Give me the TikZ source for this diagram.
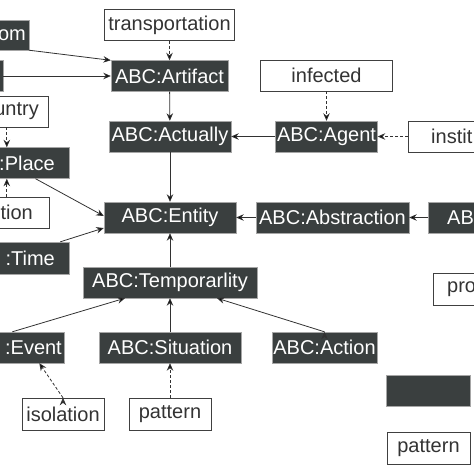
\documentclass[tikz,border=0pt]{standalone}
\usepackage{fontspec}
\setmainfont{Liberation Sans}
\usepackage{xcolor}
\usepackage{tikz}
\usetikzlibrary{arrows.meta, positioning, calc}

\definecolor{conceptfill}{RGB}{58,63,63}
\definecolor{linegray}{RGB}{50,50,50}

\begin{document}
\begin{tikzpicture}[
            x=1pt, y=-1pt,
            concept/.style={rectangle, draw=gray!70, fill=conceptfill, text=white, minimum height=31pt, inner sep=0pt, font=\fontsize{20}{22}\selectfont},
            patbox/.style={rectangle, draw=black!75, fill=white, text=black!80, minimum height=31pt, inner sep=0pt, font=\fontsize{20}{22}\selectfont},
            sub/.style={draw=linegray, line width=0.8pt, -{Stealth[length=7.5pt, width=6.5pt]}},
            dep/.style={sub, dash pattern=on 3pt off 2pt}
        ]
            \useasboundingbox (0,0) rectangle (474,474);
            \clip (0,0) rectangle (474,474);

            % Nodes
            \node[concept, minimum width=117] (artifact) at (169.5,76) {ABC:Artifact};
            \node[patbox, minimum width=130] (transport) at (169.5,25) {transportation};
            \node[concept, minimum width=122] (actually) at (170,136.5) {ABC:Actually};
            \node[concept, minimum width=132] (entity) at (170,217.5) {ABC:Entity};
            \node[concept, minimum width=174] (temp) at (170,282.5) {ABC:Temporarlity};
            \node[concept, minimum width=142] (situation) at (170,347.5) {ABC:Situation};
            \node[concept, minimum width=105] (action) at (324.5,347.5) {ABC:Action};
            \node[patbox, minimum width=82, minimum height=32] (isolation) at (63,414) {isolation};
            \node[patbox, minimum width=82, minimum height=32] (pattern) at (170,414) {pattern};
            \node[patbox, minimum width=132] (infected) at (326.5,75.5) {infected};
            \node[concept, minimum width=102] (agent) at (326.5,136.5) {ABC:Agent};
            \node[concept, minimum width=153] (abstraction) at (332.5,217.5) {ABC:Abstraction};

            % Nodes cut by the edge
            \node[concept, anchor=east, text width=96, align=right, inner xsep=14] (place) at (69,163) {:Place};
            \node[concept, anchor=east, minimum height=32, text width=91, align=right, inner xsep=14] (time) at (69,258) {:Time};
            \node[concept, anchor=east, text width=99, align=right, inner xsep=2] (event) at (64,347.5) {:Event};
            \node[concept, anchor=east, minimum height=30, text width=60, align=right, inner xsep=3] (om) at (29,35) {om};
            \node[concept, anchor=east, minimum width=40] (leftconcept) at (3,76) {};
            \node[patbox, anchor=east, text width=60, align=right, inner xsep=9] (country) at (48,111.5) {untry};
            \node[patbox, anchor=east, text width=60, align=right, inner xsep=16] (location) at (49,212.5) {tion};
            \node[patbox, anchor=west, text width=60, align=left, inner xsep=23] (instit) at (408,136.5) {instit};
            \node[concept, anchor=west, text width=40, align=left, inner xsep=19] (ab) at (428,217.5) {AB};
            \node[patbox, anchor=west, minimum height=32, text width=40, align=left, inner xsep=14] (pro) at (433,289) {pro};

            % Legend
            \node[concept, minimum width=84] (legconcept) at (428,390.5) {};
            \node[patbox, minimum width=83, minimum height=32] (legpattern) at (428.5,448) {pattern};

            % Arrows
            \path[sub]
                (om.south east) edge (artifact.north west)
                (leftconcept) edge (artifact)
                (artifact) edge (actually)
                (actually) edge (entity)
                (agent) edge (actually)
                (place) edge ([yshift=1.5pt]entity.west)
                (time) edge ([yshift=-10.5pt]entity.west)
                (abstraction) edge (entity)
                (ab) edge (abstraction)
                (temp) edge (entity)
                (event.north) edge ([xshift=-45pt]temp.south)
                (situation) edge (temp)
                (action.north) edge ([xshift=47pt]temp.south);

            \path[dep]
                (transport) edge (artifact)
                (infected) edge (agent)
                (instit) edge (agent)
                (place.north |- country.south) edge (place.north)
                (place.south |- location.north) edge (place.south)
                (isolation.north) edge ([xshift=27pt]event.south)
                (pattern) edge (situation);

        \end{tikzpicture}
\end{document}
